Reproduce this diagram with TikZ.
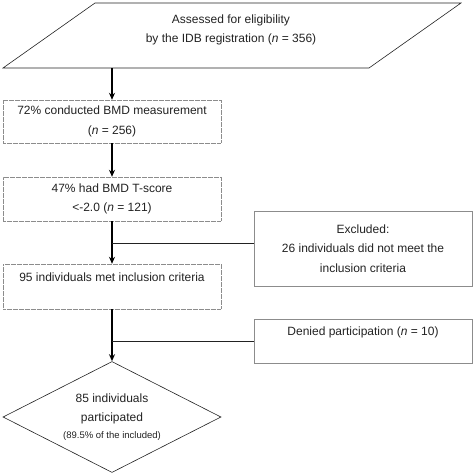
\documentclass[tikz,border=0pt]{standalone}
\usepackage{fontspec}
\setmainfont{Liberation Sans}
\usetikzlibrary{arrows.meta,positioning,calc,shapes.geometric}
\definecolor{boxgray}{RGB}{140,140,140}
\definecolor{inkgray}{RGB}{34,34,34}

\begin{document}
\begin{tikzpicture}[x=1pt,y=-1pt,
    txt/.style={align=center,text=inkgray,font=\fontsize{12}{19.5}\selectfont},
    stepbox/.style={txt,draw=boxgray,dash pattern=on 0.6pt off 0.6pt,minimum width=218pt,inner sep=0pt},
    sidebox/.style={txt,draw=boxgray,line width=0.6pt,minimum width=218pt,inner sep=0pt},
    arr/.style={-{Stealth[length=7pt,width=6pt]},line width=1.2pt,black},
    side/.style={draw=inkgray,line width=0.8pt}]
  \useasboundingbox (0,0) rectangle (474,474);
  \draw[inkgray,line width=0.6pt] (95,3) -- (461,3) -- (369,68) -- (3,68) -- cycle;
  \node[txt] (elig) at (231,30) {Assessed for eligibility\\by the IDB registration (\textit{n} = 356)};
  \coordinate (eligout) at (112,68);
  \node[stepbox,minimum height=43pt] (meas) at (112,121.5) {72\% conducted BMD measurement\\(\textit{n} = 256)};
  \node[stepbox,minimum height=44pt] (tscore) at (112,199) {47\% had BMD T-score\\<-2.0 (\textit{n} = 121)};
  \node[stepbox,minimum height=45pt] (incl) at (112,286.5) {95 individuals met inclusion criteria\\\mbox{}};
  \node[sidebox,minimum height=75pt] (excl) at (363,248.5) {Excluded:\\26 individuals did not meet the\\inclusion criteria};
  \node[sidebox,minimum height=44pt] (denied) at (363,341) {Denied participation (\textit{n} = 10)\\\mbox{}};
  \node[diamond,draw=inkgray,line width=0.6pt,minimum width=218pt,minimum height=111pt,inner sep=0pt] (part) at (112,417) {};
  \node[txt] (parttxt) at (part.center) {85 individuals\\participated\\[-3pt]{\fontsize{9.5}{11}\selectfont(89.5\% of the included)}};
  \draw[arr] (eligout) -- (meas.north);
  \draw[arr] (meas.south) -- (tscore.north);
  \draw[arr] (tscore.south) -- (incl.north);
  \draw[arr] (incl.south) -- (part.north);
  \draw[side] ([yshift=5.5pt]excl.west) -- ([yshift=5.5pt]excl.west -| tscore.south);
  \draw[side] (denied.west) -- (denied.west -| incl.south);
\end{tikzpicture}
\end{document}
